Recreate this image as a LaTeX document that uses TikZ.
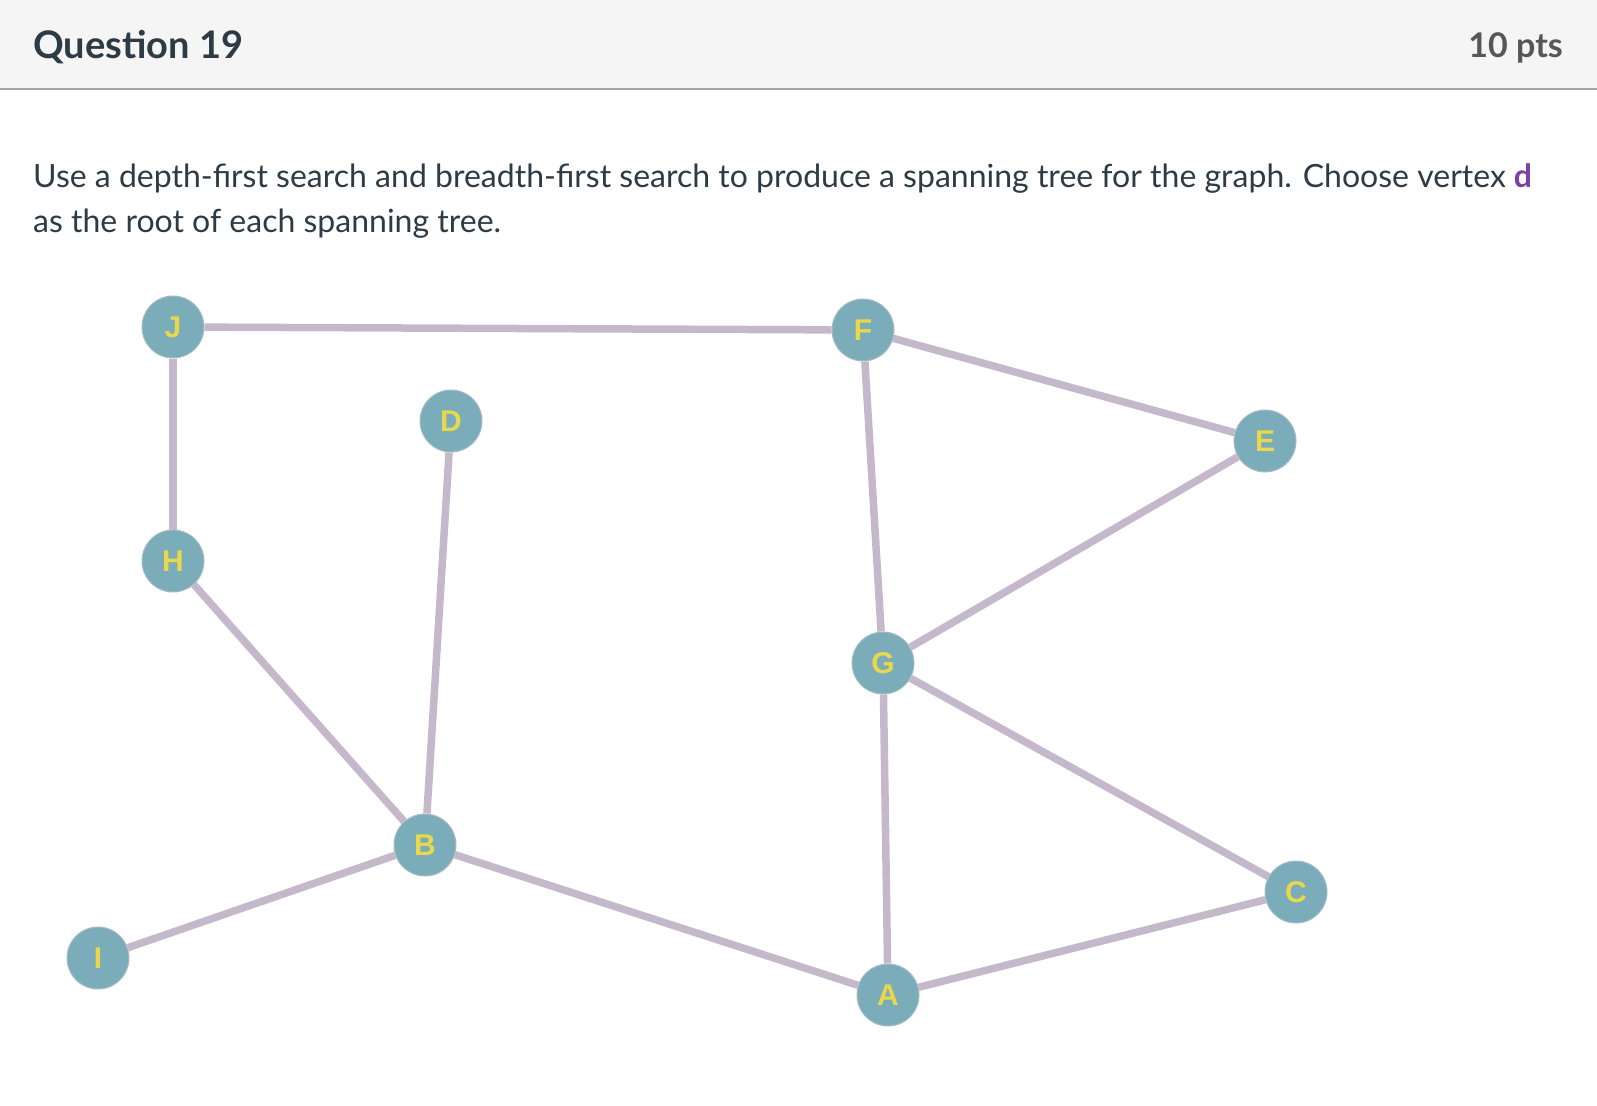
\documentclass[tikz,border=0pt]{standalone}
\usepackage{fontspec}
\setmainfont{Lato}
\newfontfamily\labelfont{Liberation Sans}
\definecolor{vertexfill}{HTML}{7AADB9}
\definecolor{vertexrim}{HTML}{A9BCC6}
\definecolor{labelyellow}{HTML}{E9D84C}
\definecolor{edgegray}{HTML}{C6B8CB}
\definecolor{headbg}{HTML}{F5F5F5}
\definecolor{headline}{HTML}{A6A6A6}
\definecolor{inktext}{HTML}{2D3B45}
\definecolor{ptsgray}{HTML}{575757}
\definecolor{rootpurple}{HTML}{7D3FA3}

\begin{document}
\begin{tikzpicture}[x=1pt,y=-1pt]
\tikzstyle{vertex}=[circle, minimum size=62pt, inner sep=0pt, fill=vertexfill, draw=vertexrim, line width=1pt, text=labelyellow, font=\labelfont\bfseries\fontsize{30}{30}\selectfont]
\tikzstyle{edge}=[draw=edgegray, line width=7.5pt]
\tikzstyle{words}=[anchor=base west, inner sep=0pt, text=inktext, font=\fontsize{32}{32}\selectfont]
\useasboundingbox (0,0) rectangle (1597,1105);
% header
\fill[headbg] (0,0) rectangle (1597,89);
\draw[headline, line width=2pt] (0,89) -- (1597,89);
\node (title) [words, font=\bfseries\fontsize{38}{38}\selectfont] at (33,59) {Question 19};
\node (pts) [words, anchor=base east, text=ptsgray, font=\bfseries\fontsize{34}{34}\selectfont] at (1563,58) {10 pts};
% question text
\node (line1) [words] at (33,187) {Use a depth-first search and breadth-first search to produce a spanning tree for the graph. Choose vertex \textcolor{rootpurple}{\bfseries d}};
\node (line2) [words] at (33,232) {as the root of each spanning tree.};
% vertices
\draw (173,327) node (j) [vertex] {J};
\draw (863,330) node (f) [vertex] {F};
\draw (451,421) node (d) [vertex] {D};
\draw (1265,441) node (e) [vertex] {E};
\draw (173,561) node (h) [vertex] {H};
\draw (883,663) node (g) [vertex] {G};
\draw (425,845) node (b) [vertex] {B};
\draw (1296,892) node (c) [vertex] {C};
\draw (98,958) node (i) [vertex] {I};
\draw (888,995) node (a) [vertex] {A};
% edges
\draw[edge] (j) -- (f);
\draw[edge] (j) -- (h);
\draw[edge] (h) -- (b);
\draw[edge] (d) -- (b);
\draw[edge] (b) -- (i);
\draw[edge] (b) -- (a);
\draw[edge] (f) -- (e);
\draw[edge] (f) -- (g);
\draw[edge] (e) -- (g);
\draw[edge] (g) -- (a);
\draw[edge] (g) -- (c);
\draw[edge] (c) -- (a);
\end{tikzpicture}
\end{document}
